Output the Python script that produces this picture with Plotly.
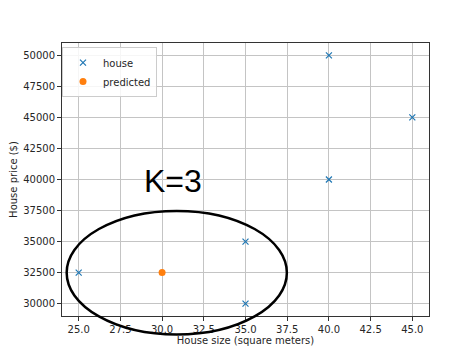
import plotly.graph_objects as go

# ---- data ----
house_size = [25, 35, 35, 40, 40, 45]
house_price = [32500, 35000, 30000, 40000, 50000, 45000]
pred_size = [30]
pred_price = [32500]
x_ticks = [25.0, 27.5, 30.0, 32.5, 35.0, 37.5, 40.0, 42.5, 45.0]
x_tick_labels = ["25.0", "27.5", "30.0", "32.5", "35.0", "37.5", "40.0", "42.5", "45.0"]
y_ticks = [30000, 32500, 35000, 37500, 40000, 42500, 45000, 47500, 50000]
y_tick_labels = ["30000", "32500", "35000", "37500", "40000", "42500", "45000", "47500", "50000"]
k_label = "K=3"

# annotation ellipse (data units)
ell_x0, ell_x1 = 24.28, 37.48
ell_y0, ell_y1 = 27510, 37470

X_RANGE = [24.0, 46.0]
Y_RANGE = [29000, 51000]

def px(v):
    return (v - X_RANGE[0]) / (X_RANGE[1] - X_RANGE[0])

def py(v):
    return (v - Y_RANGE[0]) / (Y_RANGE[1] - Y_RANGE[0])

FONT = "DejaVu Sans"
TXT = "#262626"

fig = go.Figure()
fig.add_trace(go.Scatter(
    x=house_size, y=house_price, mode="markers", name="house",
    marker=dict(symbol="x-thin", size=6, color="#1f77b4",
                line=dict(width=1.2, color="#1f77b4")),
))
fig.add_trace(go.Scatter(
    x=pred_size, y=pred_price, mode="markers", name="predicted",
    marker=dict(symbol="circle", size=7, color="#ff7f0e"),
))

fig.add_shape(type="circle", xref="paper", yref="paper",
              x0=px(ell_x0), x1=px(ell_x1), y0=py(ell_y0), y1=py(ell_y1),
              line=dict(color="black", width=2.5), layer="above")

fig.add_annotation(x=30.65, y=39850, xref="x", yref="y", text=k_label,
                   showarrow=False,
                   font=dict(family="Liberation Sans", size=32, color="black"))

axis_common = dict(
    showgrid=True, gridcolor="#c4c4c4", gridwidth=1,
    showline=True, linecolor="#333333", linewidth=1, mirror=True,
    ticks="outside", ticklen=4, tickcolor="#333333", tickwidth=1,
    zeroline=False, automargin=False,
    tickfont=dict(family=FONT, size=10, color=TXT),
)

fig.update_layout(
    width=466, height=347,
    margin=dict(l=54, r=45, t=35, b=39),
    paper_bgcolor="white", plot_bgcolor="white",
    font=dict(family=FONT, size=10, color=TXT),
    xaxis=dict(range=X_RANGE, tickvals=x_ticks, ticktext=x_tick_labels,
               title=dict(text="House size (square meters)", standoff=2,
                          font=dict(family=FONT, size=10, color=TXT)),
               **axis_common),
    yaxis=dict(range=Y_RANGE, tickvals=y_ticks, ticktext=y_tick_labels,
               title=dict(text="House price ($)", standoff=4,
                          font=dict(family=FONT, size=10, color=TXT)),
               **axis_common),
    legend=dict(x=0.0, y=0.985, xanchor="left", yanchor="top",
                bgcolor="rgba(255,255,255,0.85)", bordercolor="#cccccc",
                borderwidth=1, font=dict(family=FONT, size=10, color=TXT),
                tracegroupgap=0),
    showlegend=True,
)

fig.write_html("out.html")
